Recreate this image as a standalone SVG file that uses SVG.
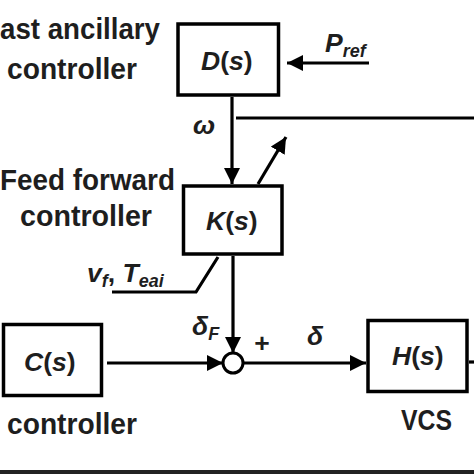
<svg xmlns="http://www.w3.org/2000/svg" width="474" height="474" viewBox="0 0 474 474">
<style>
.lbl{font-family:"Liberation Sans",Arial,sans-serif;font-weight:bold;font-size:29px;fill:#1e1e1e}
.math{font-family:"Liberation Sans",Arial,sans-serif;font-weight:bold;font-size:26.5px;fill:#1e1e1e}
.it{font-style:italic}
.sub{font-size:18px;font-style:italic}
.box{fill:#fff;stroke:#000;stroke-width:3.5}
.wire{fill:none;stroke:#000;stroke-width:3.2}
</style>
<defs>
<marker id="ah" viewBox="0 0 16 16" markerWidth="16" markerHeight="16" refX="16" refY="8" orient="auto" markerUnits="userSpaceOnUse">
<path d="M0,0 L16,8 L0,16 z" fill="#000"/>
</marker>
</defs>
<rect width="474" height="474" fill="#fff"/>

<g id="connectors">
<line class="wire" x1="232" y1="97" x2="232" y2="184" marker-end="url(#ah)"/>
<line class="wire" x1="236" y1="118" x2="474" y2="118"/>
<line class="wire" x1="258" y1="184" x2="286" y2="137" marker-end="url(#ah)"/>
<line class="wire" x1="369" y1="63" x2="287" y2="63" marker-end="url(#ah)"/>
<polyline class="wire" points="112,292 196,292 218,257"/>
<line class="wire" x1="233" y1="256" x2="233" y2="353" marker-end="url(#ah)"/>
<line class="wire" x1="107" y1="363" x2="223" y2="363" marker-end="url(#ah)"/>
<line class="wire" x1="243" y1="363" x2="366" y2="363" marker-end="url(#ah)"/>
<line class="wire" x1="469" y1="362" x2="474" y2="362"/>
</g>

<g id="node-D">
<rect class="box" x="178" y="24" width="100.5" height="71"/>
<text class="math" x="201" y="70"><tspan class="it">D</tspan>(<tspan class="it">s</tspan>)</text>
</g>
<g id="node-K">
<rect class="box" x="183.5" y="186" width="98.5" height="68"/>
<text class="math" x="206" y="230"><tspan class="it">K</tspan>(<tspan class="it">s</tspan>)</text>
</g>
<g id="node-C">
<rect class="box" x="3.5" y="324.5" width="98" height="71"/>
<text class="math" x="24" y="371"><tspan class="it">C</tspan>(<tspan class="it">s</tspan>)</text>
</g>
<g id="node-H">
<rect class="box" x="368" y="320.5" width="99" height="71"/>
<text class="math" x="392" y="365"><tspan class="it">H</tspan>(<tspan class="it">s</tspan>)</text>
</g>
<g id="node-sum">
<circle cx="233" cy="363" r="10" fill="#fff" stroke="#000" stroke-width="3"/>
</g>

<g id="labels">
<text class="lbl" x="0" y="39" textLength="160" lengthAdjust="spacingAndGlyphs">ast ancillary</text>
<text class="lbl" x="7" y="79" textLength="130" lengthAdjust="spacingAndGlyphs">controller</text>
<text class="lbl" x="0" y="190" textLength="175" lengthAdjust="spacingAndGlyphs">Feed forward</text>
<text class="lbl" x="20" y="226" textLength="132" lengthAdjust="spacingAndGlyphs">controller</text>
<text class="lbl" x="7" y="434" textLength="130" lengthAdjust="spacingAndGlyphs">controller</text>
<text class="lbl" x="401" y="430" textLength="51" lengthAdjust="spacingAndGlyphs">VCS</text>
<text class="math it" x="193" y="134" font-size="26">ω</text>
<text class="math" x="325" y="52" font-size="28"><tspan class="it">P</tspan><tspan class="sub" dy="5">ref</tspan></text>
<text class="math" x="192" y="335" font-size="28"><tspan class="it">δ</tspan><tspan class="sub" dy="5" font-style="normal">F</tspan></text>
<text class="math" x="87" y="282"><tspan class="it">v</tspan><tspan class="sub" dy="5">f</tspan><tspan dy="-5">, </tspan><tspan class="it">T</tspan><tspan class="sub" dy="5">eai</tspan></text>
<text class="math" x="262" y="352" text-anchor="middle" font-size="24">+</text>
<text class="math it" x="307" y="345" font-size="28">δ</text>
</g>

<rect x="0" y="470" width="474" height="4" fill="#222"/>
</svg>
